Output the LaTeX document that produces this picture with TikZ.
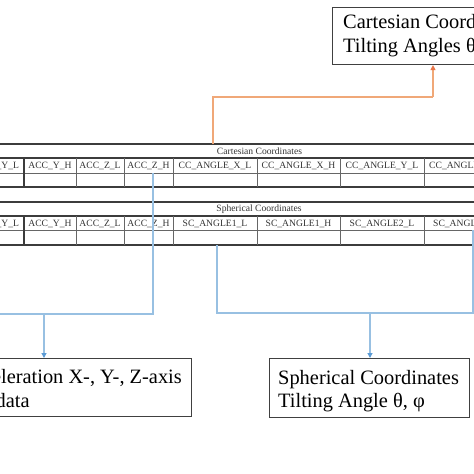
\documentclass[tikz,border=0pt]{standalone}
\usepackage{fontspec}
\setmainfont{Liberation Serif}
\usetikzlibrary{arrows.meta}
\definecolor{tline}{HTML}{3C3C3C}
\definecolor{tthin}{HTML}{666666}
\definecolor{ttext}{HTML}{333333}
\definecolor{orln}{HTML}{F0A878}
\definecolor{ortip}{HTML}{E8764A}
\definecolor{blln}{HTML}{98C0E2}
\definecolor{bltip}{HTML}{5B9BD5}
\definecolor{boxln}{HTML}{404040}
\tikzset{
  thickrule/.style={draw=tline,line width=1.6pt},
  midrule/.style={draw=tline,line width=1.1pt},
  thinrule/.style={draw=tthin,line width=0.7pt},
  cell/.style={font=\fontsize{9.6}{11}\selectfont,text=ttext,inner sep=0pt,anchor=center},
  bigbox/.style={draw=boxln,line width=1.1pt,fill=white,rectangle,inner sep=0pt},
  bigtext/.style={font=\fontsize{20.4}{24}\selectfont,text=black,inner sep=0pt,anchor=base west},
  orconn/.style={draw=orln,line width=1.1pt},
  blconn/.style={draw=blln,line width=1.1pt},
  ortipst/.style={-{Triangle[width=5pt,length=5pt,color=ortip]}},
  bltipst/.style={-{Triangle[width=5pt,length=5pt,color=bltip]}}
}
\begin{document}
\begin{tikzpicture}[x=1pt,y=-1pt]
\useasboundingbox (0,0) rectangle (474,474);
\clip (0,0) rectangle (474,474);

% ---------- Cartesian table ----------
\draw[thickrule] (-10,144) -- (484,144);
\draw[midrule] (-10,158) -- (484,158);
\draw[thinrule] (-10,173) -- (484,173);
\draw[thickrule] (-10,187) -- (484,187);
\foreach \x in {76,124,173,257,340,424}{\draw[thinrule] (\x,158) -- (\x,187);}
\draw[midrule] (24,158) -- (24,187);
\node[cell] (cthead) at (259.5,151.5) {Cartesian Coordinates};
\node[cell] (c1) at (-2,166) {ACC\_Y\_L};
\node[cell] (c2) at (50,166) {ACC\_Y\_H};
\node[cell] (c3) at (100,166) {ACC\_Z\_L};
\node[cell] (c4) at (148.5,166) {ACC\_Z\_H};
\node[cell] (c5) at (215,166) {CC\_ANGLE\_X\_L};
\node[cell] (c6) at (298.5,166) {CC\_ANGLE\_X\_H};
\node[cell] (c7) at (382,166) {CC\_ANGLE\_Y\_L};
\node[cell] (c8) at (466,166) {CC\_ANGLE\_Y\_H};

% ---------- Spherical table ----------
\draw[thickrule] (-10,202) -- (484,202);
\draw[midrule] (-10,216) -- (484,216);
\draw[thinrule] (-10,230) -- (484,230);
\draw[thickrule] (-10,245) -- (484,245);
\foreach \x in {76,124,173,257,340,424}{\draw[thinrule] (\x,216) -- (\x,245);}
\draw[midrule] (24,216) -- (24,245);
\node[cell] (sphead) at (259,209.5) {Spherical Coordinates};
\node[cell] (s1) at (-2,223.5) {ACC\_Y\_L};
\node[cell] (s2) at (50,223.5) {ACC\_Y\_H};
\node[cell] (s3) at (100,223.5) {ACC\_Z\_L};
\node[cell] (s4) at (148.5,223.5) {ACC\_Z\_H};
\node[cell] (s5) at (215,223.5) {SC\_ANGLE1\_L};
\node[cell] (s6) at (298.5,223.5) {SC\_ANGLE1\_H};
\node[cell] (s7) at (382,223.5) {SC\_ANGLE2\_L};
\node[cell] (s8) at (466,223.5) {SC\_ANGLE2\_H};

% ---------- Output boxes ----------
\node[bigbox,anchor=north west,minimum width=200pt,minimum height=57pt] (cartbox) at (332,7) {};
\node[bigtext] (cartl1) at (343,28) {Cartesian Coordinates};
\node[bigtext] (cartl2) at (343,52) {Tilting Angles θ, φ};

\node[bigbox,anchor=north east,minimum width=230pt,minimum height=58pt] (accbox) at (192,358) {};
\node[bigtext,anchor=base east] (accl1) at (182,383) {Acceleration X-, Y-, Z-axis};
\node[bigtext] (accl2) at (-4.5,407) {data};

\node[bigbox,anchor=north west,minimum width=200pt,minimum height=59pt] (sphbox) at (269,358) {};
\node[bigtext] (sphl1) at (278,384) {Spherical Coordinates};
\node[bigtext] (sphl2) at (278,407) {Tilting Angle θ, φ};

% ---------- Connectors ----------
\coordinate (otop) at (213,144);
\coordinate (ojoin) at (433,97);
\draw[orconn] (otop) |- (ojoin);
\draw[orconn,ortipst] (ojoin) -- (ojoin |- cartbox.south);

\coordinate (bltop) at (153,173);
\coordinate (blcorner) at (153,314);
\coordinate (blleft) at (-5,314);
\coordinate (bldrop) at (44,314);
\draw[blconn] (bltop) -- (blcorner) -- (blleft);
\draw[blconn,bltipst] (bldrop) -- (bldrop |- accbox.north);

\coordinate (brtop) at (217,245);
\coordinate (brright) at (473,313);
\coordinate (brend) at (473,230);
\coordinate (brdrop) at (370,313);
\draw[blconn] (brtop) |- (brright) -- (brend);
\draw[blconn,bltipst] (brdrop) -- (brdrop |- sphbox.north);
\end{tikzpicture}
\end{document}
